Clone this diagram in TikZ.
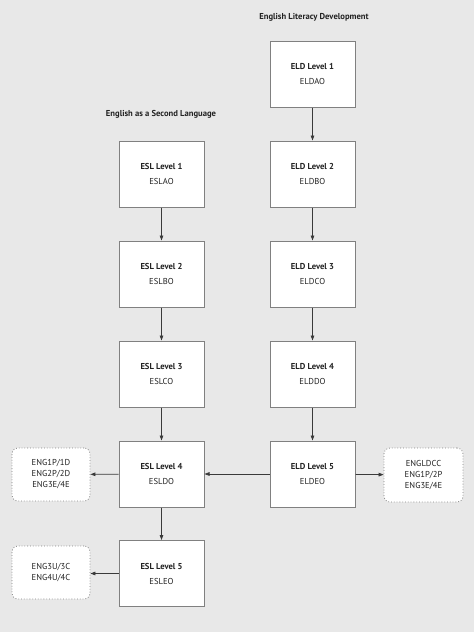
\documentclass[tikz,border=0pt]{standalone}
\usepackage{fontspec}
\setmainfont{PT Sans}
\usetikzlibrary{arrows.meta,positioning}
\definecolor{bg}{HTML}{E8E8E8}
\definecolor{boxline}{HTML}{808080}
\definecolor{arr}{HTML}{3A3A3A}
\definecolor{txt}{HTML}{222222}
\begin{document}
\begin{tikzpicture}[x=1pt,y=-1pt,
  course/.style={draw=boxline,line width=1pt,fill=white,minimum width=85pt,minimum height=66pt,inner sep=0pt,align=center,text=txt,font=\fontsize{8.6}{10}\selectfont},
  exit/.style={draw=boxline,line width=0.8pt,dotted,rounded corners=6pt,fill=white,minimum width=78pt,minimum height=53pt,inner sep=0pt,align=center,text=txt,font=\fontsize{8.6}{11}\selectfont},
  heading/.style={font=\fontsize{8.6}{10}\selectfont\bfseries,text=txt,inner sep=0pt},
  flow/.style={draw=arr,line width=0.8pt,-{Triangle[length=5pt,width=3.6pt]}}]
\fill[bg] (0,0) rectangle (474,632);
\useasboundingbox (0,0) rectangle (474,632);
\node[heading] (hELD) at (314,17) {English Literacy Development};
\node[heading] (hESL) at (161,114) {English as a Second Language};
% ELD column
\node[course] (eld1) at (312.5,74) {\textbf{ELD Level 1}\\[5pt]ELDAO};
\node[course] (eld2) at (312.5,174) {\textbf{ELD Level 2}\\[5pt]ELDBO};
\node[course] (eld3) at (312.5,274) {\textbf{ELD Level 3}\\[5pt]ELDCO};
\node[course] (eld4) at (312.5,374) {\textbf{ELD Level 4}\\[5pt]ELDDO};
\node[course] (eld5) at (312.5,474) {\textbf{ELD Level 5}\\[5pt]ELDEO};
% ESL column
\node[course] (esl1) at (161.5,174) {\textbf{ESL Level 1}\\[5pt]ESLAO};
\node[course] (esl2) at (161.5,274) {\textbf{ESL Level 2}\\[5pt]ESLBO};
\node[course] (esl3) at (161.5,374) {\textbf{ESL Level 3}\\[5pt]ESLCO};
\node[course] (esl4) at (161.5,474) {\textbf{ESL Level 4}\\[5pt]ESLDO};
\node[course] (esl5) at (161.5,573.5) {\textbf{ESL Level 5}\\[5pt]ESLEO};
% exits
\node[exit] (x4) at (51,474.5) {ENG1P/1D\\ENG2P/2D\\ENG3E/4E};
\node[exit] (x5) at (51,572.5) {ENG3U/3C\\ENG4U/4C};
\node[exit,minimum width=79pt,minimum height=54pt] (xe) at (423.5,475) {ENGLDCC\\ENG1P/2P\\ENG3E/4E};
% connectors
\draw[flow] (eld1) -- (eld2);
\draw[flow] (eld2) -- (eld3);
\draw[flow] (eld3) -- (eld4);
\draw[flow] (eld4) -- (eld5);
\draw[flow] (esl1) -- (esl2);
\draw[flow] (esl2) -- (esl3);
\draw[flow] (esl3) -- (esl4);
\draw[flow] (esl4) -- (esl5);
\draw[flow] (eld5) -- (esl4);
\draw[flow] (esl4) -- (x4);
\draw[flow] (esl5.west) -- (x5.east |- esl5.west);
\draw[flow] (eld5) -- (xe);
\end{tikzpicture}
\end{document}
